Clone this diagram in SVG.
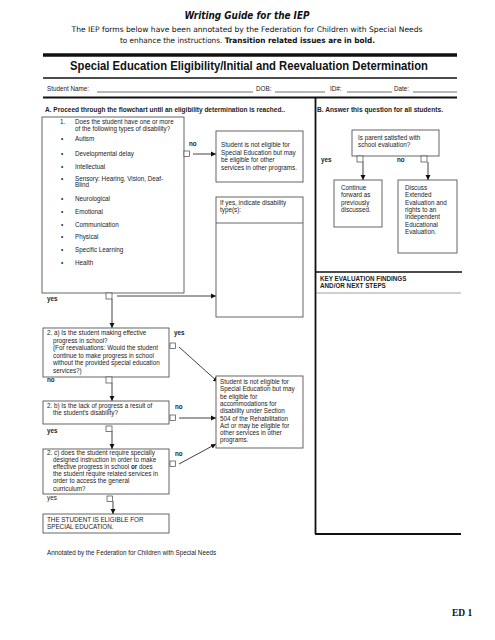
<svg xmlns="http://www.w3.org/2000/svg" width="495" height="640" viewBox="0 0 495 640">
<defs>
<marker id="ah" markerWidth="6" markerHeight="6" refX="5" refY="3" orient="auto" markerUnits="userSpaceOnUse">
<path d="M0,0.5 L5,3 L0,5.5 Z" fill="#111"/>
</marker>
<style>
.hd{font-family:"DejaVu Sans","Liberation Sans",sans-serif;fill:#111}
.t{font-family:"Liberation Sans",Arial,sans-serif;font-size:6.3px;fill:#222}
.b{font-weight:bold}
.lb{font-weight:bold}
.box{fill:#fff;stroke:#555;stroke-width:0.9}
.cb{fill:#fff;stroke:#444;stroke-width:0.7}
.con{stroke:#111;stroke-width:0.8;fill:none;marker-end:url(#ah)}
.rule{stroke:#111;fill:none}
.ul{stroke:#333;stroke-width:0.7}
</style>
</defs>
<rect width="495" height="640" fill="#fff"/>

<g id="header">
<text class="hd" x="247" y="19" style="font-size:10px" font-weight="bold" font-style="italic" text-anchor="middle" textLength="125" lengthAdjust="spacingAndGlyphs">Writing Guide for the IEP</text>
<text class="hd" x="247" y="32" style="font-size:7.6px" text-anchor="middle" textLength="351" lengthAdjust="spacingAndGlyphs">The IEP forms below have been annotated by the Federation for Children with Special Needs</text>
<text class="hd" x="120" y="43" style="font-size:7.6px" textLength="255" lengthAdjust="spacingAndGlyphs">to enhance the instructions.  <tspan font-weight="bold">Transition related issues are in bold.</tspan></text>
</g>

<g id="form-frame">
<line class="rule" x1="43" y1="55" x2="457" y2="55" stroke-width="3.5"/>
<text class="t b" x="249" y="69.5" style="font-size:12.4px;fill:#111" text-anchor="middle" textLength="358" lengthAdjust="spacingAndGlyphs">Special Education Eligibility/Initial and Reevaluation Determination</text>
<line class="rule" x1="43" y1="78" x2="457" y2="78" stroke-width="1.5"/>
<text class="t" x="47" y="91">Student Name:</text>
<line class="ul" x1="97" y1="92" x2="253" y2="92"/>
<text class="t" x="256" y="91">DOB:</text>
<line class="ul" x1="275" y1="92" x2="325" y2="92"/>
<text class="t" x="330" y="91">ID#:</text>
<line class="ul" x1="347" y1="92" x2="392" y2="92"/>
<text class="t" x="394" y="91">Date:</text>
<line class="ul" x1="413" y1="92" x2="457" y2="92"/>
<line class="rule" x1="43" y1="97.5" x2="457" y2="97.5" stroke-width="2.2"/>
<line class="rule" x1="315.5" y1="97" x2="315.5" y2="534" stroke-width="1.8"/>
<line class="rule" x1="315" y1="534" x2="461" y2="534" stroke-width="1.8"/>
<text class="t b" x="45" y="112" textLength="240" lengthAdjust="spacingAndGlyphs">A. Proceed through the flowchart until an eligibility determination is reached..</text>
<text class="t b" x="317" y="112" textLength="126" lengthAdjust="spacingAndGlyphs">B. Answer this question for all students.</text>
<line class="rule" x1="316" y1="272" x2="462" y2="272" stroke-width="1.5"/>
<text class="t b" x="320" y="281">KEY EVALUATION FINDINGS</text>
<text class="t b" x="320" y="288">AND/OR NEXT STEPS</text>
<line x1="316" y1="293" x2="461" y2="293" stroke="#888" stroke-width="0.8"/>
</g>

<g id="connectors">
<line class="con" x1="193" y1="154" x2="216" y2="154"/>
<line class="con" x1="117" y1="296" x2="216" y2="296"/>
<line class="con" x1="112" y1="299" x2="112" y2="328"/>
<line class="con" x1="179" y1="347" x2="218" y2="382"/>
<line class="con" x1="112" y1="383" x2="112" y2="401"/>
<line class="con" x1="179" y1="418" x2="216" y2="418"/>
<line class="con" x1="112" y1="431" x2="112" y2="449"/>
<line class="con" x1="179" y1="464" x2="216" y2="444"/>
<line class="con" x1="113" y1="501" x2="113" y2="514"/>
<line class="con" x1="363" y1="162" x2="363" y2="180"/>
<line class="con" x1="428" y1="162" x2="428" y2="180"/>
</g>

<g id="q1">
<rect class="box" x="42" y="117" width="142" height="176"/>
<text class="t" x="60" y="123.5">1.</text>
<text class="t" x="75" y="123.5">Does the student have one or more</text>
<text class="t" x="75" y="130.5">of the following types of disability?</text>
<g class="t">
<text x="61" y="140.5">•</text><text x="75" y="140.5">Autism</text>
<text x="61" y="156">•</text><text x="75" y="156">Developmental delay</text>
<text x="61" y="168.5">•</text><text x="75" y="168.5">Intellectual</text>
<text x="61" y="180.5">•</text><text x="75" y="180.5">Sensory: Hearing, Vision, Deaf-</text>
<text x="75" y="187">Blind</text>
<text x="61" y="200.5">•</text><text x="75" y="200.5">Neurological</text>
<text x="61" y="214">•</text><text x="75" y="214">Emotional</text>
<text x="61" y="226.5">•</text><text x="75" y="226.5">Communication</text>
<text x="61" y="239">•</text><text x="75" y="239">Physical</text>
<text x="61" y="252">•</text><text x="75" y="252">Specific Learning</text>
<text x="61" y="264.5">•</text><text x="75" y="264.5">Health</text>
</g>
<text class="t lb" x="189" y="146">no</text>
<rect class="cb" x="184" y="151" width="5.5" height="5.5"/>
<text class="t lb" x="47" y="301">yes</text>
<rect class="cb" x="106" y="293" width="6" height="6"/>
</g>

<g id="not-eligible-1">
<rect class="box" x="216" y="131" width="87" height="51"/>
<text class="t" x="221" y="147">Student is not eligible for</text>
<text class="t" x="221" y="154.5">Special Education but may</text>
<text class="t" x="221" y="162">be eligible for other</text>
<text class="t" x="221" y="169.5">services in other programs.</text>
</g>

<g id="disability-types">
<rect class="box" x="216" y="197" width="87" height="120"/>
<line x1="216" y1="223" x2="303" y2="223" stroke="#555" stroke-width="0.9"/>
<text class="t" x="220" y="205">If yes, indicate disability</text>
<text class="t" x="220" y="212">type(s):</text>
</g>

<g id="q2a">
<rect class="box" x="43" y="328" width="126" height="49"/>
<text class="t" x="47" y="335">2. a) Is the student making effective</text>
<text class="t" x="53" y="342.5">progress in school?</text>
<text class="t" x="53" y="350">(For reevaluations: Would the student</text>
<text class="t" x="53" y="357.5">continue to make progress in school</text>
<text class="t" x="53" y="365">without the provided special education</text>
<text class="t" x="53" y="372.5">services?)</text>
<text class="t lb" x="174" y="335">yes</text>
<rect class="cb" x="170" y="343" width="5.5" height="5.5"/>
<text class="t lb" x="47" y="382">no</text>
<rect class="cb" x="106" y="377" width="6" height="6"/>
</g>

<g id="not-eligible-504">
<rect class="box" x="216" y="376" width="87" height="72"/>
<text class="t" x="220" y="384">Student is not eligible for</text>
<text class="t" x="220" y="391.3">Special Education but may</text>
<text class="t" x="220" y="398.6">be eligible for</text>
<text class="t" x="220" y="405.9">accommodations for</text>
<text class="t" x="220" y="413.2">disability under Section</text>
<text class="t" x="220" y="420.5">504 of the Rehabilitation</text>
<text class="t" x="220" y="427.8">Act or may be eligible for</text>
<text class="t" x="220" y="435.1">other services in other</text>
<text class="t" x="220" y="442.4">programs.</text>
</g>

<g id="q2b">
<rect class="box" x="43" y="401" width="126" height="23"/>
<text class="t" x="47" y="408">2. b) Is the lack of progress a result of</text>
<text class="t" x="53" y="415">the student's disability?</text>
<text class="t lb" x="175" y="409">no</text>
<rect class="cb" x="170" y="415" width="5.5" height="5.5"/>
<text class="t lb" x="47" y="433">yes</text>
<rect class="cb" x="106" y="426" width="6" height="5.5"/>
</g>

<g id="q2c">
<rect class="box" x="43" y="449" width="126" height="45"/>
<text class="t" x="47" y="454.5">2. c) does the student require specially</text>
<text class="t" x="53" y="461.7">designed instruction in order to make</text>
<text class="t" x="53" y="468.9">effective progress in school <tspan class="b">or</tspan> does</text>
<text class="t" x="53" y="476.1">the student require related services in</text>
<text class="t" x="53" y="483.3">order to access the general</text>
<text class="t" x="53" y="490.5">curriculum?</text>
<text class="t lb" x="175" y="456">no</text>
<rect class="cb" x="170" y="461" width="5.5" height="5.5"/>
<text class="t" x="47" y="500">yes</text>
<rect class="cb" x="107" y="496" width="5.5" height="5.5"/>
</g>

<g id="eligible">
<rect class="box" x="43" y="514" width="126" height="19"/>
<text class="t" x="47" y="522">THE STUDENT IS ELIGIBLE FOR</text>
<text class="t" x="47" y="529">SPECIAL EDUCATION.</text>
</g>

<g id="qB">
<rect class="box" x="352" y="130" width="87" height="26"/>
<text class="t" x="358" y="140">Is parent satisfied with</text>
<text class="t" x="358" y="147">school evaluation?</text>
<text class="t lb" x="321" y="162">yes</text>
<text class="t lb" x="397" y="162">no</text>
<rect class="cb" x="357" y="156" width="6" height="6"/>
<rect class="cb" x="421" y="156" width="6" height="6"/>
</g>

<g id="continue">
<rect class="box" x="334" y="180" width="48" height="47"/>
<text class="t" x="341" y="190">Continue</text>
<text class="t" x="341" y="197.3">forward as</text>
<text class="t" x="341" y="204.6">previously</text>
<text class="t" x="341" y="211.9">discussed.</text>
</g>

<g id="discuss">
<rect class="box" x="398" y="180" width="59" height="73"/>
<text class="t" x="405" y="190">Discuss</text>
<text class="t" x="405" y="197.3">Extended</text>
<text class="t" x="405" y="204.6">Evaluation and</text>
<text class="t" x="405" y="211.9">rights to an</text>
<text class="t" x="405" y="219.2">Independent</text>
<text class="t" x="405" y="226.5">Educational</text>
<text class="t" x="405" y="233.8">Evaluation.</text>
</g>

<g id="footer">
<text class="t" x="47" y="555">Annotated by the Federation for Children with Special Needs</text>
<text x="452" y="616" font-family="Liberation Serif,serif" font-weight="bold" font-size="9.5" fill="#111">ED 1</text>
</g>
</svg>
